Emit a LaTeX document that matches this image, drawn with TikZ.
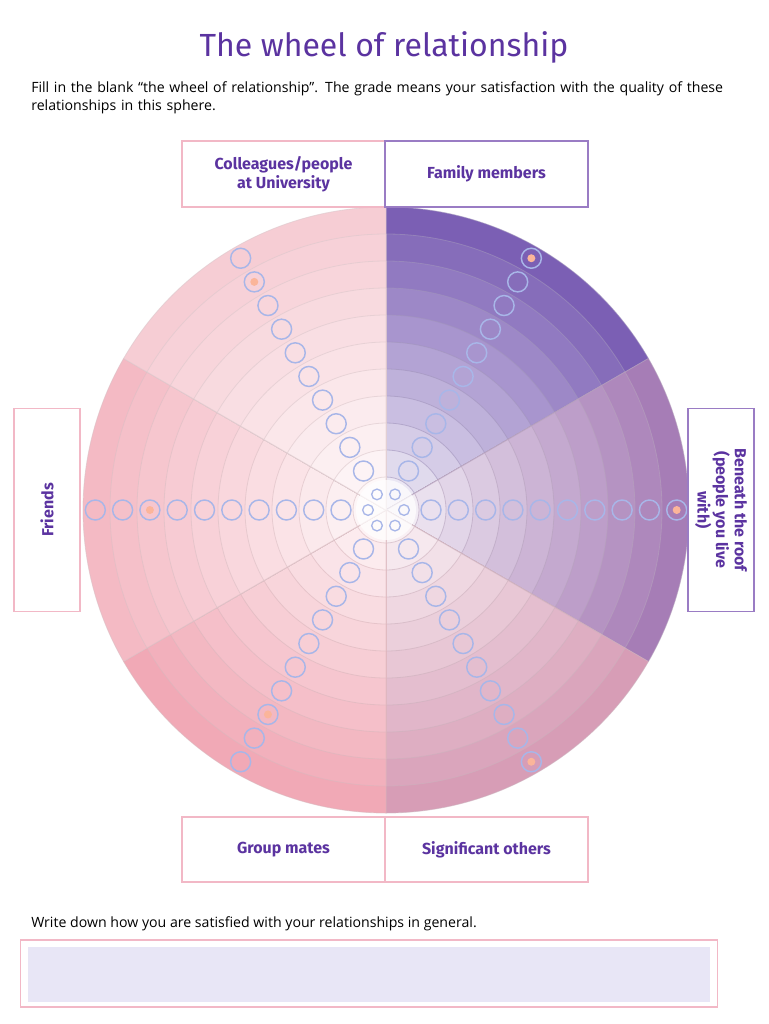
\documentclass[tikz,border=0pt]{standalone}
\usepackage{fontspec}
\setmainfont{Fira Sans}
\newfontfamily\bodyfont{Open Sans}
\begin{document}
\begin{tikzpicture}[x=0.75pt,y=-0.75pt,
  lab/.style={draw=#1,line width=1.2pt,fill=white,text=titlepurple,font=\fontsize{12}{14}\selectfont\bfseries,align=center,inner sep=0pt},
  rmark/.style={circle,draw=markblue,line width=1.1pt,minimum size=15pt,inner sep=0pt},
  smark/.style={circle,draw=markblue,line width=1pt,minimum size=8pt,inner sep=0pt},
  odot/.style={circle,fill=dotorange,minimum size=6pt,inner sep=0pt}]
\definecolor{titlepurple}{HTML}{5B33A0}
\definecolor{markblue}{HTML}{A8B6E8}
\definecolor{dotorange}{HTML}{FBB59A}
\definecolor{pinkline}{HTML}{F2B8C6}
\definecolor{purpline}{HTML}{9A7CC4}
\definecolor{cFam}{HTML}{7B5FB4}
\definecolor{cBen}{HTML}{A67DB6}
\definecolor{cSig}{HTML}{D79DB6}
\definecolor{cGrp}{HTML}{F1A9B6}
\definecolor{cFri}{HTML}{F4BAC4}
\definecolor{cCol}{HTML}{F6CDD4}
\definecolor{ansfill}{HTML}{E8E6F6}
\useasboundingbox (0,0) rectangle (768,1024);
\fill[white] (0,0) rectangle (768,1024);
\node[text=titlepurple,font=\fontsize{24}{28}\selectfont] (title) at (384,47) {The wheel of relationship};
\node[anchor=north west,align=left,font=\bodyfont\fontsize{10.6}{13.5}\selectfont,text width=540pt,inner sep=0pt] (intro) at (31,81) {Fill in the blank “the wheel of relationship”. The grade means your satisfaction with the quality of these relationships in this sphere.};
% wheel
\begin{scope}[shift={(386,510)},yscale=-1]
\foreach \a/\b/\c in {30/90/cFam,-30/30/cBen,-90/-30/cSig,-150/-90/cGrp,150/210/cFri,90/150/cCol}{
  \foreach \k in {0,...,10}{
    \pgfmathsetmacro{\r}{303-27*\k}
    \pgfmathsetmacro{\p}{100-8.5*\k}
    \fill[\c!\p!white,draw=\c!80!black!60!white,line width=0.6pt,draw opacity=0.6] (0,0) -- (\a:\r) arc[start angle=\a,end angle=\b,radius=\r] -- cycle;
  }
}
\fill[white,opacity=0.7] (0,0) circle (30);
\foreach \sa/\hit in {60/9,0/9,-60/9,240/7,180/7,120/8}{
  \foreach \k in {0,...,9}{
    \node[rmark] (m\sa-\k) at (\sa:{45+27.3*\k}) {};
  }
  \node[odot] (d\sa) at (\sa:{45+27.3*\hit}) {};
  \node[smark] (s\sa) at (\sa:18) {};
}
\end{scope}
% labels
\node[lab=pinkline,minimum width=152pt,minimum height=49.5pt] (col) at (283.5,174) {Colleagues/people\\at University};
\node[lab=purpline,minimum width=152pt,minimum height=49.5pt] (fam) at (486.5,174) {Family members};
\node[lab=pinkline,minimum width=152pt,minimum height=49pt] (grp) at (283.5,849.5) {Group mates};
\node[lab=pinkline,minimum width=152pt,minimum height=49pt] (sig) at (486.5,849.5) {Significant others};
\node[lab=pinkline,minimum width=152pt,minimum height=49.5pt,rotate=90] (fri) at (47,510) {Friends};
\node[lab=purpline,minimum width=152pt,minimum height=49.5pt,rotate=-90] (ben) at (721,510) {Beneath the roof\\(people you live\\with)};
\node[anchor=west,font=\bodyfont\fontsize{10.6}{13}\selectfont,inner sep=0pt] (q) at (31,924) {Write down how you are satisfied with your relationships in general.};
\node[draw=pinkline,line width=1.2pt,minimum width=523pt,minimum height=50pt,inner sep=0pt] (ans) at (369,973.5) {};
\fill[ansfill] (28,947) rectangle (710,1002);
\end{tikzpicture}
\end{document}
